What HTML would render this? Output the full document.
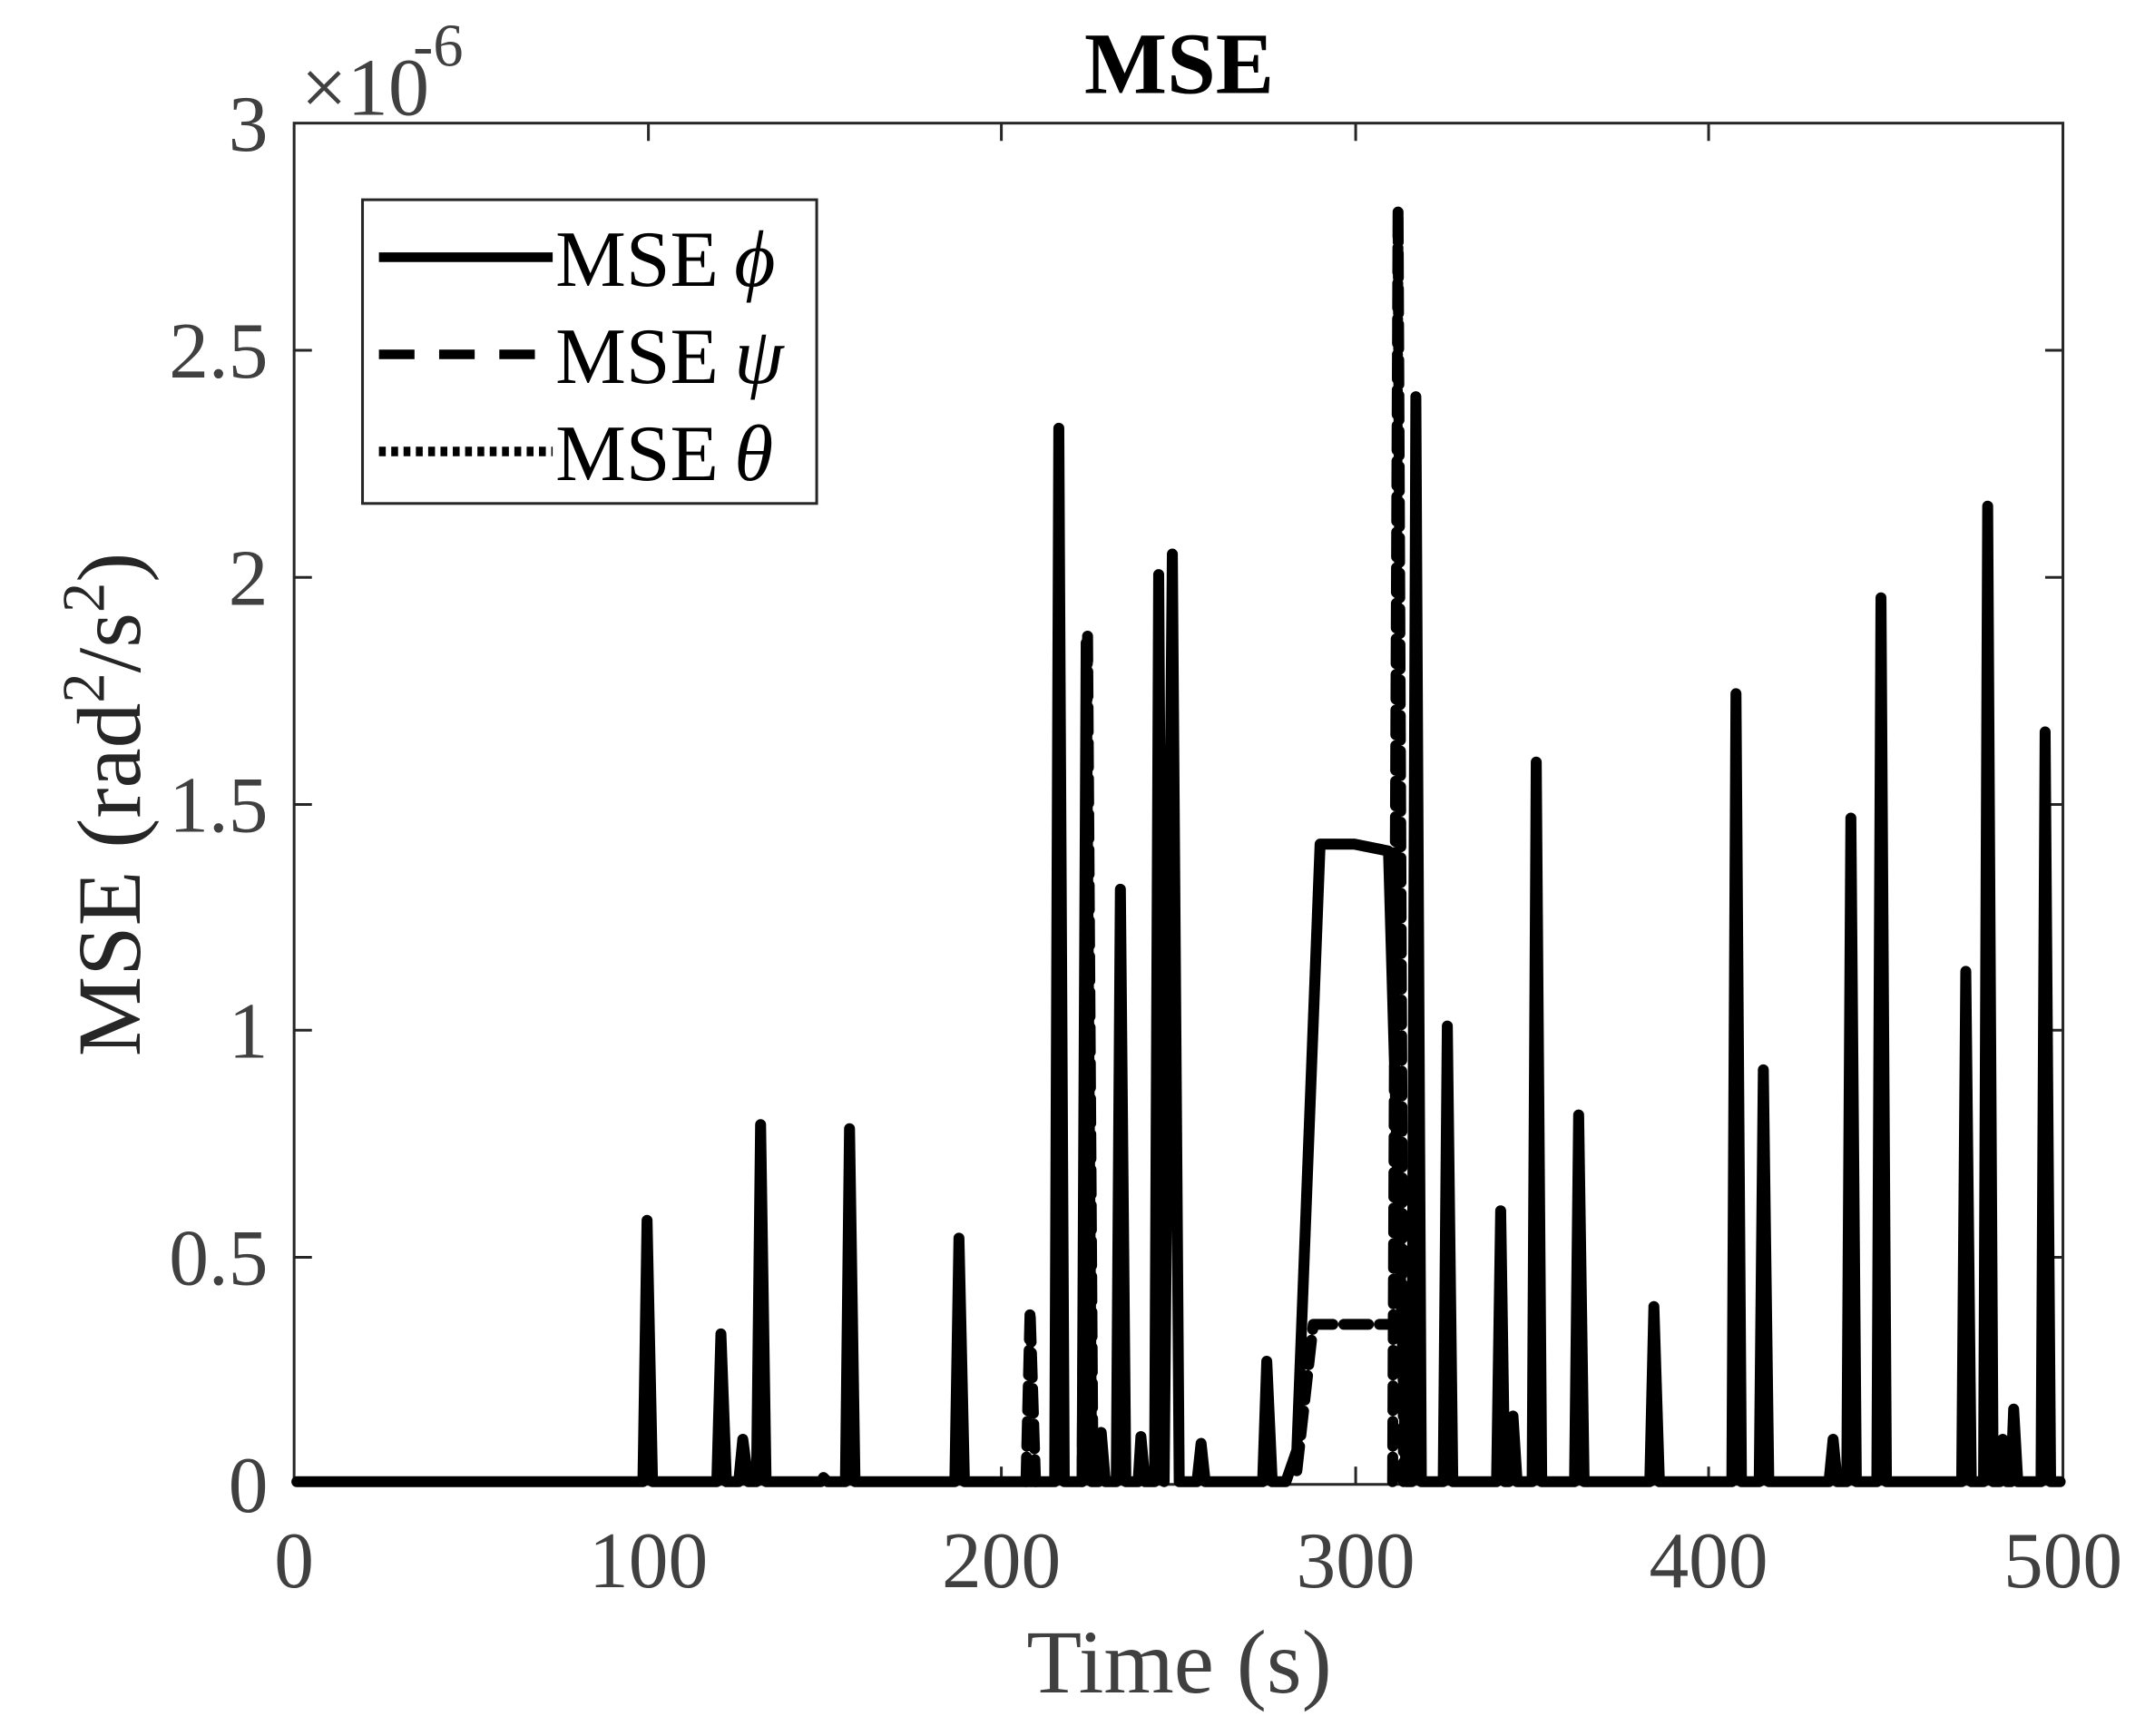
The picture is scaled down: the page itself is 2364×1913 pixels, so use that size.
<!DOCTYPE html>
<html><head><meta charset="utf-8"><style>
html,body{margin:0;padding:0;background:#fff;}
svg{display:block;}
text{font-family:"Liberation Serif","DejaVu Serif",serif;}
</style></head><body>
<svg width="2364" height="1913" viewBox="0 0 1568 1268.9" preserveAspectRatio="none" xmlns="http://www.w3.org/2000/svg">
<rect x="0" y="0" width="1568" height="1269" fill="#fff"/>
<rect x="215" y="90" width="1293" height="995" fill="none" stroke="#262626" stroke-width="2"/>
<g stroke="#262626" stroke-width="2">
<line x1="474" y1="1085" x2="474" y2="1072"/><line x1="732" y1="1085" x2="732" y2="1072"/><line x1="991" y1="1085" x2="991" y2="1072"/><line x1="1249" y1="1085" x2="1249" y2="1072"/>
<line x1="474" y1="90" x2="474" y2="103"/><line x1="732" y1="90" x2="732" y2="103"/><line x1="991" y1="90" x2="991" y2="103"/><line x1="1249" y1="90" x2="1249" y2="103"/>
<line x1="215" y1="919" x2="228" y2="919"/><line x1="215" y1="753" x2="228" y2="753"/><line x1="215" y1="588" x2="228" y2="588"/><line x1="215" y1="422" x2="228" y2="422"/><line x1="215" y1="256" x2="228" y2="256"/>
<line x1="1508" y1="919" x2="1495" y2="919"/><line x1="1508" y1="753" x2="1495" y2="753"/><line x1="1508" y1="588" x2="1495" y2="588"/><line x1="1508" y1="422" x2="1495" y2="422"/><line x1="1508" y1="256" x2="1495" y2="256"/>
</g>
<g fill="#404040" font-size="58">
<text x="215" y="1160" text-anchor="middle">0</text>
<text x="474" y="1160" text-anchor="middle">100</text>
<text x="732" y="1160" text-anchor="middle">200</text>
<text x="991" y="1160" text-anchor="middle">300</text>
<text x="1249" y="1160" text-anchor="middle">400</text>
<text x="1508" y="1160" text-anchor="middle">500</text>
<g text-anchor="end">
<text x="196" y="1105">0</text>
<text x="196" y="939">0.5</text>
<text x="196" y="773">1</text>
<text x="196" y="608">1.5</text>
<text x="196" y="442">2</text>
<text x="196" y="276">2.5</text>
<text x="196" y="110">3</text>
</g>
<text x="220" y="84" font-size="60">×10</text>
<text x="302" y="48" font-size="44">-6</text>
<text x="862" y="1237" font-size="66" text-anchor="middle">Time (s)</text>
<text transform="translate(102,588) rotate(-90)" font-size="66" text-anchor="middle" fill="#262626">MSE (rad<tspan font-size="44" dy="-26">2</tspan><tspan dy="26">/s</tspan><tspan font-size="44" dy="-26">2</tspan><tspan dy="26">)</tspan></text>
</g>
<text x="862" y="68" font-size="64" font-weight="bold" text-anchor="middle" fill="#000">MSE</text>
<g fill="none" stroke="#000" stroke-width="8" stroke-linejoin="round" stroke-linecap="round">
<path d="M217,1083 L470,1083 L473,892 L477,1083 L524,1083 L527,975 L531,1083 L540,1083 L543,1052 L547,1083 L553,1083 L556,822 L560,1083 L600,1083 L602,1080 L605,1083 L618,1083 L621,825 L625,1083 L698,1083 L701,905 L705,1083 L771,1083 L774,313 L778,1083 L791,1083 L794,470 L798,1083 L803,1083 L805,1047 L808,1083 L816,1083 L819,650 L823,1083 L832,1083 L834,1050 L837,1083 L844,1083 L847,420 L851,1083 L854,745 L857,405 L862,1083 L875,1083 L878,1055 L881,1083 L923,1083 L926,995 L930,1083 L940,1083 L948,1060 L965,617 L990,617 L1015,622 L1028,1083 L1032,1083 L1035,290 L1039,1083 L1055,1083 L1058,750 L1062,1083 L1094,1083 L1097,885 L1100,1083 L1103,1083 L1106,1035 L1109,1083 L1120,1083 L1123,557 L1127,1083 L1151,1083 L1154,815 L1158,1083 L1206,1083 L1209,955 L1213,1083 L1266,1083 L1269,507 L1273,1083 L1286,1083 L1289,782 L1293,1083 L1337,1083 L1340,1052 L1343,1083 L1350,1083 L1353,598 L1357,1083 L1372,1083 L1375,437 L1379,1083 L1434,1083 L1437,710 L1441,1083 L1450,1083 L1453,370 L1457,1083 L1462,1083 L1464,1052 L1467,1083 L1470,1083 L1472,1030 L1475,1083 L1492,1083 L1495,535 L1499,1083 L1506,1083"/>
<path stroke-dasharray="18 8" d="M750,1083 L753,958 L757,1083 M791,1083 L795,462 L799,1083 M948,1075 L960,968 L1015,968 M1018,1083 L1022,153 L1026,1083"/>
</g>
<rect x="265" y="146" width="332" height="222" fill="#fff" stroke="#262626" stroke-width="2"/>
<line x1="277" y1="188" x2="404" y2="188" stroke="#000" stroke-width="7"/>
<line x1="277" y1="259" x2="404" y2="259" stroke="#000" stroke-width="7" stroke-dasharray="26 18"/>
<line x1="277" y1="330" x2="404" y2="330" stroke="#000" stroke-width="7" stroke-dasharray="5 4"/>
<g font-size="58" fill="#000">
<text x="406" y="209">MSE <tspan font-style="italic" dx="-3">ϕ</tspan></text>
<text x="406" y="280">MSE <tspan font-style="italic" dx="-3">ψ</tspan></text>
<text x="406" y="351">MSE <tspan font-style="italic" dx="-3">θ</tspan></text>
</g>
</svg>
</body></html>
